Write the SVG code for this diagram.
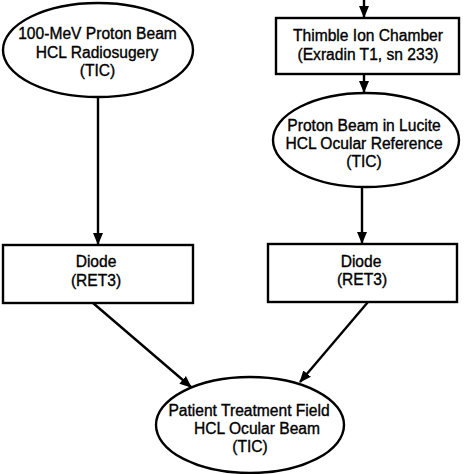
<svg xmlns="http://www.w3.org/2000/svg" width="474" height="474" viewBox="0 0 474 474">
<defs>
<marker id="ah" markerWidth="12" markerHeight="12" refX="11" refY="6" orient="auto" markerUnits="userSpaceOnUse">
<path d="M0,1 L12,6 L0,11 Z" fill="#000"/>
</marker>
<style>
.n{fill:#fff;stroke:#000;stroke-width:2.4}
.t{font-family:"Liberation Sans",Arial,sans-serif;font-size:15.6px;fill:#000;stroke:#000;stroke-width:0.35;text-anchor:middle}
.c{stroke:#000;stroke-width:2.4;fill:none;marker-end:url(#ah)}
</style>
</defs>
<rect width="474" height="474" fill="#fff"/>
<g id="connectors">
<line class="c" x1="364" y1="0" x2="364" y2="17"/>
<line class="c" x1="364" y1="74" x2="364" y2="92"/>
<line class="c" x1="98" y1="97" x2="98" y2="244"/>
<line class="c" x1="362" y1="188" x2="362" y2="243"/>
<line class="c" x1="93" y1="303" x2="191" y2="387"/>
<line class="c" x1="368" y1="302" x2="300" y2="382"/>
</g>
<g id="n1">
<ellipse class="n" cx="98" cy="50" rx="95" ry="47"/>
<text class="t" x="97.5" y="39">100-MeV Proton Beam</text>
<text class="t" x="97" y="57.5">HCL Radiosugery</text>
<text class="t" x="97.5" y="76">(TIC)</text>
</g>
<g id="n2">
<rect class="n" x="276" y="18" width="183" height="56"/>
<text class="t" x="368" y="41">Thimble Ion Chamber</text>
<text class="t" x="368" y="59.5">(Exradin T1, sn 233)</text>
</g>
<g id="n3">
<ellipse class="n" cx="366" cy="140" rx="93" ry="47"/>
<text class="t" x="364" y="131">Proton Beam in Lucite</text>
<text class="t" x="364" y="149">HCL Ocular Reference</text>
<text class="t" x="364" y="167">(TIC)</text>
</g>
<g id="n4">
<rect class="n" x="3" y="245" width="190" height="58"/>
<text class="t" x="96" y="267">Diode</text>
<text class="t" x="96" y="285.5">(RET3)</text>
</g>
<g id="n5">
<rect class="n" x="268" y="244" width="189" height="58"/>
<text class="t" x="361" y="266.5">Diode</text>
<text class="t" x="362" y="285">(RET3)</text>
</g>
<g id="n6">
<ellipse class="n" cx="250" cy="425" rx="94" ry="48"/>
<text class="t" x="249" y="416">Patient Treatment Field</text>
<text class="t" x="257" y="434">HCL Ocular Beam</text>
<text class="t" x="250" y="452">(TIC)</text>
</g>
</svg>
